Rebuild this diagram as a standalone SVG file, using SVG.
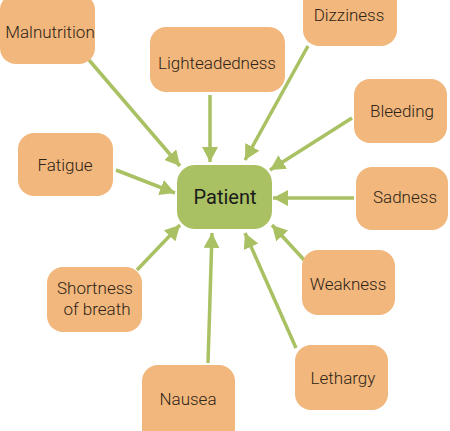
<svg xmlns="http://www.w3.org/2000/svg" width="450" height="431" viewBox="0 0 450 431">
<defs>
<style>
.n rect{fill:#f2b77c}
.n text{font-family:Roboto,"Liberation Sans",sans-serif;font-size:17px;font-weight:300;fill:#2e2418;text-anchor:middle}
#patient rect{fill:#a9c162}
#patient text{font-size:20px;font-weight:400;fill:#1a1a1a}
.c line{stroke:#a9c162;stroke-width:3.5;marker-end:url(#ah)}
</style>
<marker id="ah" markerUnits="userSpaceOnUse" markerWidth="16" markerHeight="16" refX="15" refY="8" orient="auto">
<path d="M0,0 L15,8 L0,16 z" fill="#a9c162"/>
</marker>
</defs>
<rect width="450" height="431" fill="#ffffff"/>
<g class="c" id="connectors">
<line x1="89" y1="60" x2="180" y2="166"/>
<line x1="210" y1="95" x2="210" y2="162"/>
<line x1="308" y1="46" x2="245" y2="160"/>
<line x1="352" y1="118" x2="270" y2="170"/>
<line x1="116" y1="170" x2="175" y2="193"/>
<line x1="354" y1="198" x2="273" y2="198"/>
<line x1="137" y1="270" x2="180" y2="225"/>
<line x1="306" y1="262" x2="272" y2="225"/>
<line x1="208" y1="363" x2="212" y2="233"/>
<line x1="296" y1="348" x2="245" y2="233"/>
</g>
<g class="n" id="malnutrition"><rect x="0" y="-6" width="95" height="70" rx="16"/><text x="50" y="38">Malnutrition</text></g>
<g class="n" id="lighteadedness"><rect x="150" y="27" width="135" height="65" rx="16"/><text x="217" y="69">Lighteadedness</text></g>
<g class="n" id="dizziness"><rect x="303" y="-18" width="94" height="64" rx="16"/><text x="349" y="21">Dizziness</text></g>
<g class="n" id="bleeding"><rect x="354" y="79" width="93" height="64" rx="16"/><text x="402" y="117">Bleeding</text></g>
<g class="n" id="fatigue"><rect x="18" y="133" width="95" height="63" rx="16"/><text x="65" y="171">Fatigue</text></g>
<g class="n" id="patient"><rect x="177" y="165" width="95" height="64" rx="18"/><text x="225" y="204">Patient</text></g>
<g class="n" id="sadness"><rect x="356" y="167" width="92" height="63" rx="16"/><text x="405" y="203">Sadness</text></g>
<g class="n" id="shortness"><rect x="47" y="267" width="95" height="65" rx="16"/><text x="95" y="294">Shortness</text><text x="97" y="315">of breath</text></g>
<g class="n" id="weakness"><rect x="302" y="250" width="93" height="65" rx="16"/><text x="348" y="290">Weakness</text></g>
<g class="n" id="lethargy"><rect x="295" y="345" width="93" height="65" rx="16"/><text x="343" y="384">Lethargy</text></g>
<g class="n" id="nausea"><rect x="142" y="365" width="93" height="80" rx="16"/><text x="188" y="405">Nausea</text></g>
</svg>
